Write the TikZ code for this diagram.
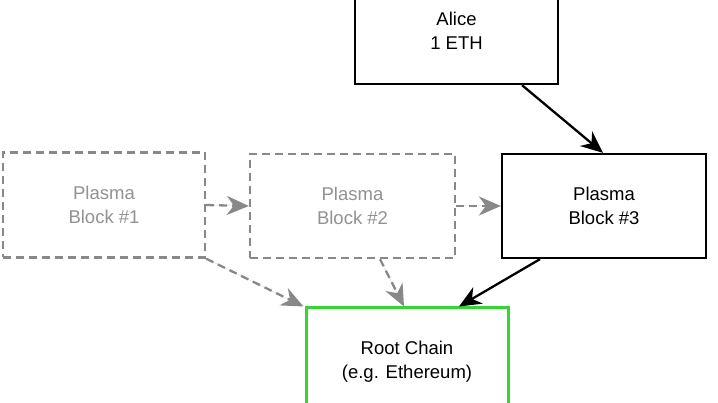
\documentclass[tikz,border=0pt]{standalone}
\usepackage{fontspec}
\setmainfont{Liberation Sans}
\usetikzlibrary{arrows.meta}
\definecolor{dgray}{HTML}{888888}
\definecolor{tgray}{HTML}{929292}
\definecolor{rgreen}{HTML}{33D633}
\begin{document}
\begin{tikzpicture}[x=1pt,y=-1pt,
  box/.style={draw, line width=2.3pt, align=center, inner sep=0pt,
    font=\fontsize{18.5}{24}\selectfont},
  solidbox/.style={box, draw=black, text=black},
  ghostbox/.style={box, draw=dgray, text=tgray, dash pattern=on 8pt off 5pt},
  rootbox/.style={box, draw=rgreen, line width=3pt, text=black},
  headarrow/.style={-{Stealth[length=22pt,width=19pt,inset=7pt]}},
  solidarrow/.style={headarrow, draw=black, line width=2.3pt},
  ghostarrow/.style={headarrow, draw=dgray, fill=dgray, line width=2.3pt, dash pattern=on 8pt off 5pt}
]
\useasboundingbox (0,0) rectangle (718,403);
\fill[white] (0,0) rectangle (718,403);
\node[solidbox, minimum width=203pt, minimum height=106pt] (alice) at (456.5,31) {Alice\\1 ETH};
\node[solidbox, minimum width=204pt, minimum height=104pt] (b3) at (604,206) {Plasma\\Block \#3};
\node[ghostbox, minimum width=205pt, minimum height=104pt] (b2) at (352.5,206) {Plasma\\Block \#2};
\node[ghostbox, minimum width=202pt, minimum height=105pt] (b1) at (104,205) {Plasma\\Block \#1};
\node[rootbox, minimum width=202pt, minimum height=108pt] (root) at (407,362) {Root Chain\\(e.g. Ethereum)};

\draw[solidarrow] ([xshift=65.5pt]alice.south) -- ([xshift=-1pt]b3.north);
\draw[ghostarrow] (b1.east) -- (b2.west);
\draw[ghostarrow] (b2.east) -- (b3.west);
\draw[ghostarrow] (b1.south east) -- ([xshift=-1pt]root.north west);
\draw[ghostarrow] ([xshift=27.5pt]b2.south) -- ([xshift=-3pt]root.north);
\draw[solidarrow] ([xshift=-64pt]b3.south) -- ([xshift=52pt]root.north);
\end{tikzpicture}
\end{document}
